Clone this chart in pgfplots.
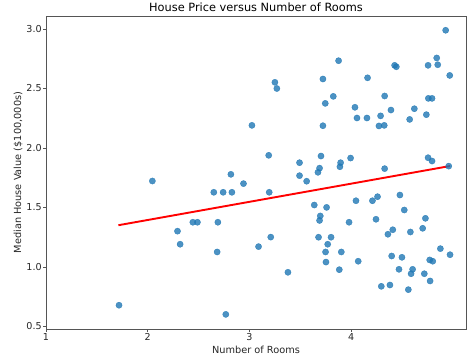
\documentclass[border=0pt]{standalone}
\usepackage{pgfplots}
\pgfplotsset{compat=1.18}
\usepackage{fontspec}
\setmainfont{DejaVu Sans}
\definecolor{mplblue}{HTML}{1F77B4}
\definecolor{spine}{HTML}{555555}
\begin{document}
\begin{tikzpicture}
\begin{axis}[
  scale only axis,
  width=420bp, height=313bp,
  xmin=1, xmax=5.13, ymin=0.477, ymax=3.11,
  xtick={1,2,3,4},
  ytick={0.5,1.0,1.5,2.0,2.5,3.0},
  yticklabel style={inner sep=1.5bp, /pgf/number format/.cd,fixed,fixed zerofill,precision=1},
  xticklabel style={inner sep=1.5bp},
  /pgf/number format/assume math mode=true,
  tick align=outside, tick pos=left,
  major tick length=2.6bp,
  every tick/.style={spine, line width=0.6pt},
  axis line style={spine, line width=0.6pt},
  tick label style={font=\fontsize{9.6}{11}\selectfont, text=black!85},
  label style={font=\fontsize{9.8}{11}\selectfont, text=black!85},
  title style={font=\fontsize{11.4}{13}\selectfont, yshift=-5.5bp},
  title={House Price versus Number of Rooms},
  xlabel={Number of Rooms},
  ylabel={Median House Value (\$100,000s)},
  xlabel style={yshift=-1bp},
  ylabel style={yshift=-1bp},
  clip=false,
]
\addplot[only marks, mark=*, mark size=3.1bp, mark options={fill=mplblue, draw=mplblue, fill opacity=0.8, draw opacity=0.8}] table {
x y
1.718 0.677
2.046 1.722
2.293 1.300
2.319 1.190
2.444 1.375
2.489 1.375
2.650 1.627
2.683 1.125
2.690 1.375
2.742 1.627
2.768 0.600
2.818 1.778
2.828 1.627
2.942 1.700
3.025 2.190
3.090 1.170
3.190 1.938
3.195 1.627
3.210 1.250
3.251 2.552
3.270 2.500
3.379 0.954
3.493 1.876
3.493 1.767
3.563 1.720
3.638 1.520
3.674 1.795
3.690 1.830
3.680 1.249
3.690 1.390
3.697 1.428
3.704 1.932
3.723 2.580
3.723 2.187
3.746 2.375
3.749 1.125
3.753 1.040
3.759 1.500
3.770 1.190
3.803 1.249
3.825 2.434
3.877 2.734
3.884 0.976
3.890 1.842
3.897 1.876
3.904 1.125
3.980 1.375
3.995 1.915
4.038 2.342
4.048 1.556
4.058 2.252
4.070 1.047
4.156 2.252
4.162 2.590
4.210 1.556
4.245 1.400
4.260 1.590
4.274 2.185
4.290 2.270
4.297 0.836
4.326 2.190
4.330 2.437
4.330 1.826
4.362 1.274
4.382 0.847
4.392 2.319
4.399 1.091
4.410 1.312
4.428 2.695
4.445 2.683
4.471 0.979
4.480 1.604
4.500 1.080
4.523 1.478
4.563 0.808
4.576 2.240
4.583 1.293
4.590 0.942
4.605 0.979
4.622 2.330
4.704 1.324
4.720 0.942
4.731 1.408
4.740 2.280
4.757 2.695
4.757 1.918
4.760 2.417
4.773 1.058
4.777 0.881
4.796 2.417
4.796 1.890
4.803 1.047
4.842 2.757
4.852 2.700
4.878 1.153
4.930 2.990
4.970 2.610
4.973 1.102
4.960 1.847
};
\addplot[red, line width=1.9bp] coordinates {(1.712,1.350) (4.973,1.848)};
\end{axis}
\pgfresetboundingbox
\path ([shift={(-46bp,-32bp)}]current axis.south west) rectangle ([shift={(8bp,16bp)}]current axis.north east);
\end{tikzpicture}
\end{document}
